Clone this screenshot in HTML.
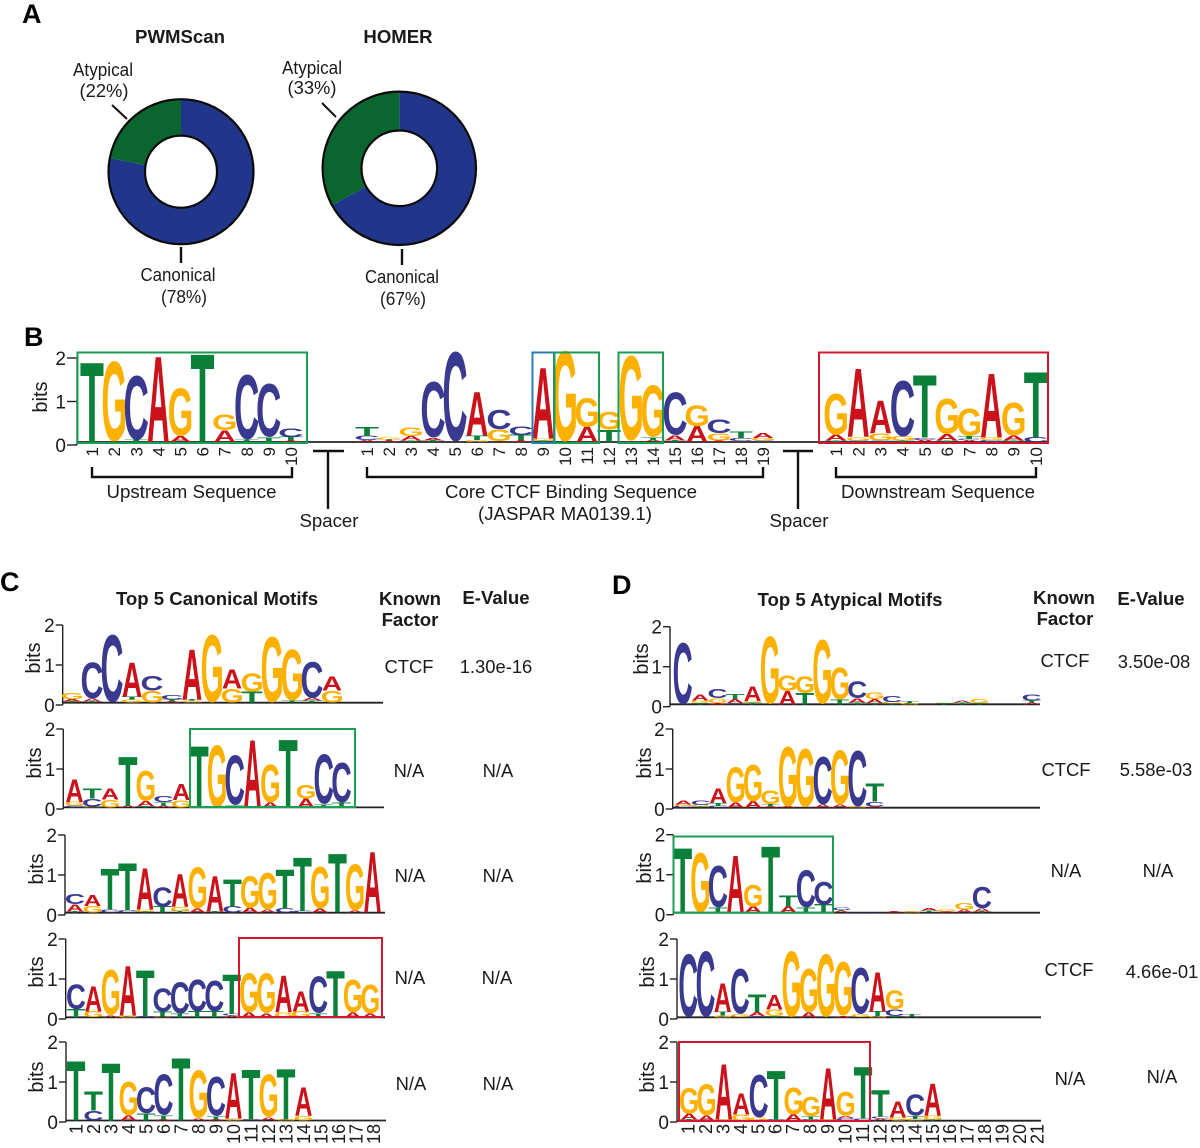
<!DOCTYPE html>
<html lang="en">
<head>
<meta charset="utf-8">
<title>CTCF motif figure</title>
<style>
html,body{margin:0;padding:0;background:#fff;}
svg{display:block;filter:blur(0.35px);}
text{font-family:"Liberation Sans",Arial,sans-serif;fill:#1a1a1a;}
.panel{font-weight:bold;font-size:27px;fill:#000;}
.l{font-size:18px;}
.m{font-size:18.4px;}
.h{font-size:18.6px;font-weight:bold;}
.mid{text-anchor:middle;}
</style>
</head>
<body>
<svg id="fig" width="1200" height="1148" viewBox="0 0 1200 1148" xmlns="http://www.w3.org/2000/svg">
<rect width="1200" height="1148" fill="#fff"/>
<text class="panel" x="22" y="23">A</text>
<text class="panel" x="24" y="346">B</text>
<text class="panel" x="0" y="591">C</text>
<text class="panel" x="612" y="594">D</text>

<g>
<text class="h mid" x="180" y="43">PWMScan</text>
<text class="h mid" x="398" y="43">HOMER</text>
<text class="l mid" x="103" y="76" textLength="60" lengthAdjust="spacingAndGlyphs">Atypical</text>
<text class="l mid" x="104" y="97" textLength="49" lengthAdjust="spacingAndGlyphs">(22%)</text>
<text class="l mid" x="178" y="281" textLength="75" lengthAdjust="spacingAndGlyphs">Canonical</text>
<text class="l mid" x="184" y="303" textLength="46" lengthAdjust="spacingAndGlyphs">(78%)</text>
<text class="l mid" x="312" y="74" textLength="60" lengthAdjust="spacingAndGlyphs">Atypical</text>
<text class="l mid" x="312" y="94" textLength="49" lengthAdjust="spacingAndGlyphs">(33%)</text>
<text class="l mid" x="402" y="283" textLength="74" lengthAdjust="spacingAndGlyphs">Canonical</text>
<text class="l mid" x="403" y="305" textLength="46" lengthAdjust="spacingAndGlyphs">(67%)</text>
<path d="M112 105L127 119" stroke="#111" stroke-width="2"/>
<path d="M181 247V263" stroke="#111" stroke-width="2.4"/>
<path d="M322 103L336 117" stroke="#111" stroke-width="2"/>
<path d="M402 249V265" stroke="#111" stroke-width="2.4"/>
</g>

<g fill="none" stroke="#111" stroke-width="2.4">
<path d="M92 467V477H292V467"/>
<path d="M367 467V477H763V467"/>
<path d="M836 467V477H1036V467"/>
<path d="M313 451H344M328 451V509"/>
<path d="M783 451H813M798 451V509"/>
</g>
<g>
<text class="m mid" x="191.500" y="498" textLength="170" lengthAdjust="spacingAndGlyphs">Upstream Sequence</text>
<text class="m mid" x="571" y="498" textLength="252" lengthAdjust="spacingAndGlyphs">Core CTCF Binding Sequence</text>
<text class="m mid" x="565" y="520" textLength="174" lengthAdjust="spacingAndGlyphs">(JASPAR MA0139.1)</text>
<text class="m mid" x="938" y="498" textLength="194" lengthAdjust="spacingAndGlyphs">Downstream Sequence</text>
<text class="m mid" x="329" y="527" textLength="59" lengthAdjust="spacingAndGlyphs">Spacer</text>
<text class="m mid" x="799" y="527" textLength="59" lengthAdjust="spacingAndGlyphs">Spacer</text>
</g>

<g>
<text class="h mid" x="217" y="605">Top 5 Canonical Motifs</text>
<text class="h mid" x="410" y="605">Known</text>
<text class="h mid" x="410" y="626">Factor</text>
<text class="h mid" x="496" y="604">E-Value</text>
<text class="m mid" x="409" y="673">CTCF</text>
<text class="m mid" x="496" y="673">1.30e-16</text>
<text class="m mid" x="409" y="777">N/A</text>
<text class="m mid" x="498" y="777">N/A</text>
<text class="m mid" x="410" y="882">N/A</text>
<text class="m mid" x="498" y="882">N/A</text>
<text class="m mid" x="410" y="984">N/A</text>
<text class="m mid" x="497" y="984">N/A</text>
<text class="m mid" x="411" y="1090">N/A</text>
<text class="m mid" x="498" y="1090">N/A</text>
</g>
<g>
<text class="h mid" x="850" y="606">Top 5 Atypical Motifs</text>
<text class="h mid" x="1064" y="604">Known</text>
<text class="h mid" x="1065" y="625">Factor</text>
<text class="h mid" x="1151" y="605">E-Value</text>
<text class="m mid" x="1065" y="667">CTCF</text>
<text class="m mid" x="1154" y="668">3.50e-08</text>
<text class="m mid" x="1066" y="776">CTCF</text>
<text class="m mid" x="1156" y="776">5.58e-03</text>
<text class="m mid" x="1066" y="877">N/A</text>
<text class="m mid" x="1158" y="877">N/A</text>
<text class="m mid" x="1069" y="976">CTCF</text>
<text class="m mid" x="1162" y="978">4.66e-01</text>
<text class="m mid" x="1070" y="1085">N/A</text>
<text class="m mid" x="1162" y="1083">N/A</text>
</g>
</svg>

<script>
// ---- donut data ----
const donutCategories = ['Canonical', 'Atypical'];
const pwmscanShares = [78, 22];
const homerShares = [67, 33];

// ---- shared axis tick labels ----
const bitTicks = [0, 1, 2];

// ---- logo data: every position lists letter heights in bits, bottom to top ----
const upstreamLogo = [{T:1.8},{G:1.85},{T:.05,C:1.48},{A:1.95},{A:.13,G:1.1},{T:2},{A:.27,G:.36},{T:.05,C:1.5},{T:.1,C:1.23},{A:.03,T:.08,C:.2}];
const coreLogo = [{A:.04,C:.1,T:.2},{A:.03,T:.03,G:.05},{T:.03,A:.1,G:.19},{T:.04,A:.06,C:1.29},{C:2.07},{G:.05,T:.1,A:1},{A:.02,G:.27,C:.45},{A:.03,T:.13,C:.2},{T:.03,G:.05,A:1.62},{G:2.1},{A:.35,G:.67},{T:.28,G:.4},{A:.02,G:1.96},{A:.04,T:.07,G:1.2},{T:.04,A:.12,C:.99},{A:.36,G:.48},{A:.03,G:.17,C:.31},{A:.02,C:.07,T:.14},{C:.03,G:.06,A:.12}];
const downstreamLogo = [{T:.03,A:.13,G:.95},{C:.03,G:.08,A:1.56},{C:.03,G:.16,A:.75},{T:.03,G:.1,C:1.28},{A:.05,C:.05,T:1.43},{T:.03,A:.15,G:.82},{A:.04,C:.03,T:.07,G:.64},{C:.04,G:.07,A:1.46},{T:.03,A:.12,G:.75},{C:.12,T:1.48}];

const canonicalLogo1 = [{T:.03,A:.06,G:.14},{T:.03,A:.07,C:.9},{C:1.7},{G:.08,T:.07,A:.85},{G:.3,C:.37},{A:.03,T:.05,C:.11},{G:.05,T:.03,A:1.24},{G:1.7},{G:.35,A:.47},{T:.27,G:.46},{G:1.65},{T:.05,G:1.28},{T:.05,A:.07,C:.9},{G:.3,A:.35}];
const canonicalLogo2 = [{C:.04,G:.09,A:.55},{G:.02,C:.2,T:.25},{G:.2,A:.27},{A:.05,T:1.22},{T:.03,A:.13,G:.76},{A:.05,T:.08,C:.15},{G:.18,A:.4},{T:1.52},{G:1.57},{T:.05,C:1.25},{A:1.67},{A:.12,G:.96},{T:1.67},{A:.22,G:.34},{T:.08,C:1.25},{T:.12,C:1}];
const canonicalLogo3 = [{T:.03,A:.18,C:.27},{G:.17,A:.27},{C:.08,T:1},{C:.07,T:1.16},{T:.03,G:.05,A:1.02},{T:.15,C:.5},{T:.04,G:.1,A:.81},{A:.1,G:1.03},{T:.03,A:.87},{C:.16,T:.67},{A:.12,G:.8},{A:.08,G:.92},{C:.12,T:.95},{C:.04,T:1.32},{A:.1,G:1.05},{T:1.45},{A:.05,G:1.17},{A:1.5}];
const canonicalLogo4 = [{T:.2,C:.63},{G:.15,A:.62},{A:.05,G:1.13},{G:.05,A:1.23},{C:.03,T:1.14},{G:.02,T:.12,C:.59},{T:.1,C:.79},{T:.15,C:.8},{T:.15,C:.77},{A:.05,C:.04,T:.97},{A:.12,G:.98},{A:.1,G:1},{G:.12,A:.91},{G:.14,A:.5},{T:.1,C:.92},{C:.03,T:1.11},{A:.12,G:.83},{A:.1,G:.72}];
const canonicalLogo5 = [{T:1.47},{C:.25,T:.48},{T:1.42},{A:.12,G:.86},{T:.18,C:.65},{A:.03,T:.1,C:1.02},{T:1.55},{A:.05,G:1.2},{A:.03,T:.08,C:.99},{G:.05,A:1.14},{C:.03,T:1.23},{A:.08,G:1.07},{G:.03,T:1.25},{G:.12,A:.7}];

const atypicalLogo1 = [{C:1.55},{T:.03,G:.06,A:.14},{A:.03,G:.12,C:.23},{C:.03,A:.1,T:.12},{T:.05,G:.03,A:.36},{G:1.7},{A:.33,G:.4},{T:.28,G:.42},{G:1.62},{T:.12,G:.81},{T:.05,A:.1,C:.43},{T:.03,A:.1,G:.17},{T:.02,G:.04,C:.14},{G:.03,T:.05},{A:.02},{T:.03,G:.02},{T:.05,A:.05},{T:.03,G:.09},{},{},{A:.04,T:.05,C:.14}];
const atypicalLogo2 = [{C:.04,G:.04,A:.09},{T:.03,G:.04,C:.11},{C:.04,T:.08,A:.36},{A:.13,G:.89},{A:.15,G:.92},{A:.03,T:.06,G:.35},{A:.03,G:1.5},{A:.02,G:1.46},{A:.07,C:1.2},{A:.07,G:1.36},{G:.03,C:1.4},{A:.03,C:.12,T:.45}];
const atypicalLogo3 = [{T:1.6},{G:1.5},{T:.12,C:1.05},{A:1.4},{A:.15,G:.56},{T:1.65},{A:.15,T:.27},{T:.13,C:.94},{T:.2,C:.58},{A:.04,T:.03,C:.07},{C:.02},{C:.02},{A:.03},{G:.03},{C:.02,T:.03,A:.06},{A:.03,G:.05},{A:.08,G:.17},{T:.03,A:.08,C:.55}];
const atypicalLogo4 = [{C:1.58},{C:1.65},{G:.05,T:.1,A:.7},{G:.08,C:1.14},{C:.03,A:.1,T:.43},{T:.03,G:.17,A:.36},{G:1.65},{A:.12,G:1.1},{G:1.58},{A:.03,G:1.35},{G:.08,C:1.17},{G:.03,T:.12,A:.97},{T:.03,C:.17,G:.48},{A:.02,T:.06}];
const atypicalLogo5 = [{T:.03,A:.14,G:.64},{A:.13,G:.79},{G:.03,A:1.37},{G:.15,A:.52},{G:.08,C:1.07},{C:.03,T:1.22},{A:.15,G:.68},{C:.03,T:.08,G:.49},{G:.03,A:1.27},{C:.07,A:.05,G:.61},{C:.05,T:1.28},{A:.05,C:.05,T:.65},{G:.08,A:.4},{G:.04,T:.08,C:.55},{T:.03,G:.1,A:.79}];

// ---- layout (not data) ----
const NS = 'http://www.w3.org/2000/svg';
const fig = document.getElementById('fig');
const letterColor = {A:'#cb1119', C:'#38398f', G:'#fcb000', T:'#0b8038'};
// ink extents of Liberation Sans Bold at 100px: left, width, below baseline, height
const inkBox = {A:[0,72,0,68.8], C:[4.5,63.5,1.2,71], G:[4.5,68,1.2,71], T:[2.1,57,0,68.8]};

function make(tag, attrs, parent) {
  const el = document.createElementNS(NS, tag);
  for (const k in attrs) el.setAttribute(k, attrs[k]);
  (parent || fig).appendChild(el);
  return el;
}

function arcPath(cx, cy, R, r, a0, a1) {
  const px = (rad, a) => cx + rad * Math.sin(a);
  const py = (rad, a) => cy - rad * Math.cos(a);
  const large = Math.abs(a1 - a0) > Math.PI ? 1 : 0;
  return 'M' + px(R, a0) + ' ' + py(R, a0) +
    'A' + R + ' ' + R + ' 0 ' + large + ' 1 ' + px(R, a1) + ' ' + py(R, a1) +
    'L' + px(r, a1) + ' ' + py(r, a1) +
    'A' + r + ' ' + r + ' 0 ' + large + ' 0 ' + px(r, a0) + ' ' + py(r, a0) + 'Z';
}

function drawDonut(name, shares, cx, cy, R, r) {
  const colors = ['#21368a', '#0a652e'];
  const total = shares.reduce((a, b) => a + b, 0);
  const g = make('g', {});
  
  
  let angle = 0;
  shares.forEach((v, i) => {
    const next = angle + v / total * 2 * Math.PI;
    const p = make('path', {d: arcPath(cx, cy, R, r, angle, next), fill: colors[i]}, g);
    
    
    angle = next;
  });
  [R, r].forEach(rad => {
    const ring = make('circle', {cx: cx, cy: cy, r: rad, fill: 'none', stroke: '#0a0a0a', 'stroke-width': 2.2}, g);
    
    
  });
}

function drawLetter(parent, letter, cx, bottom, w, h) {
  if (h <= 0) return;
  const ink = inkBox[letter];
  const sx = w / ink[1], sy = h / ink[3];
  const t = make('text', {
    transform: 'translate(' + (cx - w / 2) + ' ' + bottom + ') scale(' + sx + ' ' + sy + ')',
    x: -ink[0], y: -ink[2], 'font-size': 100, 'font-weight': 'bold',
    style: 'fill:' + letterColor[letter]
  }, parent);
  t.textContent = letter;
  
  
}

function drawLogo(name, stacks, x0, step, base, ppb) {
  const xScale = i => x0 + step * i;
  const yScale = v => base - v * ppb;
  const g = make('g', {});
  
  
  stacks.forEach((stack, i) => {
    let cum = 0;
    Object.keys(stack).forEach(letter => {
      const top = cum + stack[letter];
      drawLetter(g, letter, xScale(i), yScale(cum), step * 1.01, yScale(cum) - yScale(top));
      cum = top;
    });
  });
}

function drawAxes(name, o) {
  const g = make('g', {});
  
  
  const tickY = v => o.zero - v * o.ppb;
  const axis = make('path', {d: 'M' + o.axisX + ' ' + tickY(bitTicks[bitTicks.length - 1]) + 'V' + o.zero, stroke: '#222', 'stroke-width': 1.4, fill: 'none'}, g);
  
  
  bitTicks.forEach(v => {
    const tick = make('path', {d: 'M' + (o.axisX - o.tickLen) + ' ' + tickY(v) + 'H' + o.axisX, stroke: '#222', 'stroke-width': 1.4}, g);
    
    
    const lab = make('text', {x: o.axisX - o.tickLen - 1, y: tickY(v) + 7, 'text-anchor': 'end', 'font-size': 19}, g);
    lab.textContent = String(v);
    
    
  });
  const title = make('text', {transform: 'translate(' + o.bitsX + ' ' + o.bitsY + ') rotate(-90)', 'text-anchor': 'middle', 'font-size': 20}, g);
  title.textContent = 'bits';
  
  
  const line = make('path', {d: 'M' + o.axisX + ' ' + o.base + 'H' + o.endX, stroke: '#222', 'stroke-width': 1.8}, g);
  
  
}

function drawPositionLabels(name, count, x0, step, top, size) {
  const g = make('g', {});
  
  
  for (let i = 0; i < count; i++) {
    const t = make('text', {
      transform: 'translate(' + (x0 + step * i + size * 0.36) + ' ' + top + ') rotate(-90)',
      'text-anchor': 'end', 'font-size': size
    }, g);
    t.textContent = String(i + 1);
    
    
  }
}

function drawBox(name, x0, y0, x1, y1, color) {
  const r = make('rect', {x: x0, y: y0, width: x1 - x0, height: y1 - y0, fill: 'none', stroke: color, 'stroke-width': 2});
  
  
}

// ---- panel A ----
drawDonut('pwmscan-donut', pwmscanShares, 181, 171.7, 72.5, 36);
drawDonut('homer-donut', homerShares, 399.3, 168.3, 76.7, 37.8);

// ---- panel B ----
drawAxes('panel-b-axes', {axisX: 77, tickLen: 10, zero: 445, ppb: 43.5, base: 442, endX: 1048, bitsX: 47, bitsY: 397});
drawLogo('upstream-logo', upstreamLogo, 92, 22.1, 442, 43.5);
drawLogo('core-logo', coreLogo, 367, 22, 442, 43.5);
drawLogo('downstream-logo', downstreamLogo, 836, 22.2, 442, 43.5);
drawPositionLabels('upstream-position-labels', upstreamLogo.length, 92, 22.1, 447, 17);
drawPositionLabels('core-position-labels', coreLogo.length, 367, 22, 447, 17);
drawPositionLabels('downstream-position-labels', downstreamLogo.length, 836, 22.2, 447, 17);
drawBox('upstream-box', 77.5, 352.5, 307, 443, '#1b9d53');
drawBox('position-9-box', 532.5, 352.5, 554, 443, '#2b7cb9');
drawBox('position-10-11-box', 554.5, 352.5, 599, 443, '#1b9d53');
drawBox('position-13-14-box', 618.5, 352.5, 663, 443, '#1b9d53');
drawBox('downstream-box', 819, 352.5, 1048, 443, '#d0182f');

// ---- panel C ----
drawAxes('c1-axes', {axisX: 62.7, tickLen: 7, zero: 705, ppb: 40, base: 702.7, endX: 383, bitsX: 40, bitsY: 658});
drawLogo('c1-logo', canonicalLogo1, 72, 20, 702.7, 40);
drawAxes('c2-axes', {axisX: 63.3, tickLen: 7, zero: 809, ppb: 40, base: 807.4, endX: 384, bitsX: 41, bitsY: 763});
drawLogo('c2-logo', canonicalLogo2, 74.5, 17.8, 807.4, 40);
drawBox('c2-upstream-box', 190, 729, 355, 807, '#1b9d53');
drawAxes('c3-axes', {axisX: 65, tickLen: 7, zero: 915, ppb: 40, base: 912.7, endX: 385, bitsX: 43, bitsY: 869});
drawLogo('c3-logo', canonicalLogo3, 75, 17.5, 912.7, 40);
drawAxes('c4-axes', {axisX: 65.7, tickLen: 7, zero: 1019, ppb: 40, base: 1017.3, endX: 385, bitsX: 43, bitsY: 972});
drawLogo('c4-logo', canonicalLogo4, 76, 17.3, 1017.3, 40);
drawBox('c4-downstream-box', 239, 938, 382, 1017, '#d0182f');
drawAxes('c5-axes', {axisX: 66, tickLen: 7, zero: 1122, ppb: 40, base: 1120.5, endX: 386, bitsX: 43, bitsY: 1077});
drawLogo('c5-logo', canonicalLogo5, 76, 17.5, 1120.5, 40);
drawPositionLabels('c5-position-labels', 18, 76, 17.5, 1124, 18);

// ---- panel D ----
drawAxes('d1-axes', {axisX: 670, tickLen: 7, zero: 706.7, ppb: 40, base: 704.3, endX: 1040, bitsX: 648, bitsY: 659});
drawLogo('d1-logo', atypicalLogo1, 682.7, 17.45, 704.3, 40);
drawAxes('d2-axes', {axisX: 672.7, tickLen: 7, zero: 809, ppb: 40, base: 807.7, endX: 1040, bitsX: 651, bitsY: 763});
drawLogo('d2-logo', atypicalLogo2, 683.4, 17.4, 807.7, 40);
drawAxes('d3-axes', {axisX: 673.3, tickLen: 7, zero: 914.7, ppb: 40, base: 912.7, endX: 1040, bitsX: 651, bitsY: 868});
drawLogo('d3-logo', atypicalLogo3, 682.7, 17.6, 912.7, 40);
drawBox('d3-upstream-box', 673.5, 836.5, 833, 912.7, '#1b9d53');
drawAxes('d4-axes', {axisX: 677, tickLen: 7, zero: 1019, ppb: 40, base: 1017.3, endX: 1041, bitsX: 654, bitsY: 972});
drawLogo('d4-logo', atypicalLogo4, 688.3, 17.2, 1017.3, 40);
drawAxes('d5-axes', {axisX: 677, tickLen: 7, zero: 1122, ppb: 40, base: 1120.7, endX: 1041, bitsX: 654, bitsY: 1077});
drawLogo('d5-logo', atypicalLogo5, 689, 17.4, 1120.7, 40);
drawBox('d5-downstream-box', 679, 1042, 870, 1121, '#d0182f');
drawPositionLabels('d5-position-labels', 21, 688, 17.45, 1124, 18);
</script>
</body>
</html>
